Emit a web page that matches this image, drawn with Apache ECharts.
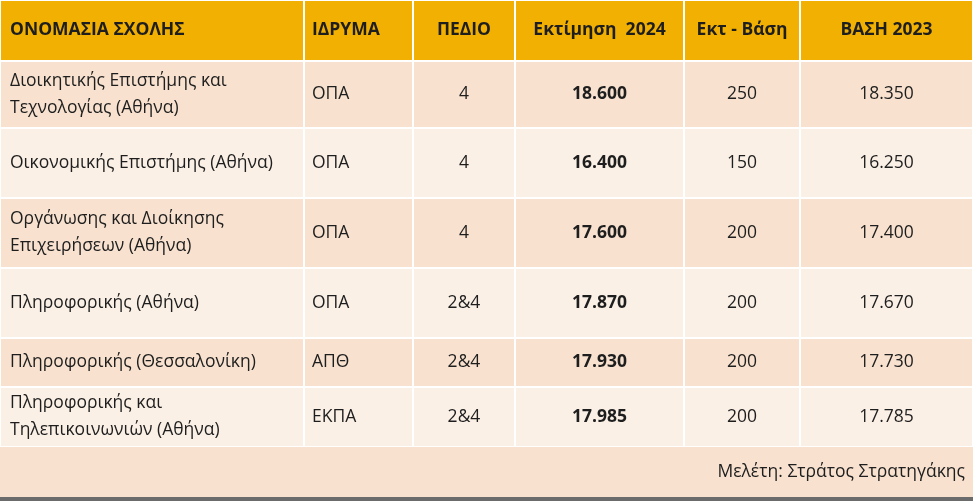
<!DOCTYPE html>
<html><head><meta charset="utf-8">
<script src="https://cdn.jsdelivr.net/npm/echarts@6/dist/echarts.min.js"></script>
<style>html,body{margin:0;padding:0;background:#fff}#c{width:973px;height:501px}</style>
</head><body><div id="c"></div>
<script>
const headers = ['ΟΝΟΜΑΣΙΑ ΣΧΟΛΗΣ','ΙΔΡΥΜΑ','ΠΕΔΙΟ','Εκτίμηση  2024','Εκτ - Βάση','ΒΑΣΗ 2023'];
const schools = ['Διοικητικής Επιστήμης και\nΤεχνολογίας (Αθήνα)','Οικονομικής Επιστήμης (Αθήνα)','Οργάνωσης και Διοίκησης\nΕπιχειρήσεων (Αθήνα)','Πληροφορικής (Αθήνα)','Πληροφορικής (Θεσσαλονίκη)','Πληροφορικής και\nΤηλεπικοινωνιών (Αθήνα)'];
const institutions = ['ΟΠΑ','ΟΠΑ','ΟΠΑ','ΟΠΑ','ΑΠΘ','ΕΚΠΑ'];
const fields = ['4','4','4','2&4','2&4','2&4'];
const est2024 = ['18.600','16.400','17.600','17.870','17.930','17.985'];
const diff = ['250','150','200','200','200','200'];
const base2023 = ['18.350','16.250','17.400','17.670','17.730','17.785'];
const footer = 'Μελέτη: Στράτος Στρατηγάκης';

const colEdges = [0,304,413,515,684,800,973];
const rowEdges = [0,61,128,198,268,338,387,447,497];
const colAlign = ['left','left','center','center','center','center'];
const colors = {header:'#F2B102', odd:'#F8E2CF', even:'#FBF0E6'};

const rows = [headers];
for (let i=0;i<schools.length;i++) rows.push([schools[i],institutions[i],fields[i],est2024[i],diff[i],base2023[i]]);
const cells = [];
rows.forEach((r,ri)=>r.forEach((t,ci)=>cells.push([ci,ri,t])));
cells.push([-1, rows.length, footer]);

function renderItem(params, api){
  const ci = api.value(0), ri = api.value(1), txt = cells[params.dataIndex][2];
  let x0,x1;
  if (ci<0){x0=0;x1=973;} else {x0=colEdges[ci];x1=colEdges[ci+1];}
  const p0 = api.coord([x0,rowEdges[ri]]), p1 = api.coord([x1,rowEdges[ri+1]]);
  const fill = ri===0?colors.header:(ri%2===1?colors.odd:colors.even);
  const w=p1[0]-p0[0], h=p1[1]-p0[1];
  let tx, align;
  if (ci<0){tx=p1[0]-8;align='right';}
  else if (colAlign[ci]==='left'){tx=p0[0]+(ci===0?10:8);align='left';}
  else {tx=p0[0]+w/2;align='center';}
  const bold = ri===0 || ci===3;
  return {type:'group',children:[
    {type:'rect',shape:{x:p0[0],y:p0[1],width:w,height:h},style:{fill:fill,stroke:'#fff',lineWidth:ci<0?0:2}},
    {type:'text',style:{x:tx,y:p0[1]+h/2,text:txt,align:align,verticalAlign:'middle',
      fontFamily:'Open Sans, Noto Sans, sans-serif',fontSize:17.5,lineHeight:27,
      fontWeight:bold?'bold':'normal',fill:'#1e1e1e'}}
  ]};
}

const chart = echarts.init(document.getElementById('c'));
chart.setOption({
  animation:false,
  grid:{left:0,right:0,top:0,bottom:0},
  xAxis:{type:'value',min:0,max:973,show:false},
  yAxis:{type:'value',min:0,max:501,inverse:true,show:false},
  graphic:[{type:'rect',shape:{x:0,y:497,width:973,height:4},style:{fill:'#6b6b6b'}}],
  series:[{type:'custom',renderItem:renderItem,data:cells.map(c=>[c[0],c[1]])}]
});
</script></body></html>
